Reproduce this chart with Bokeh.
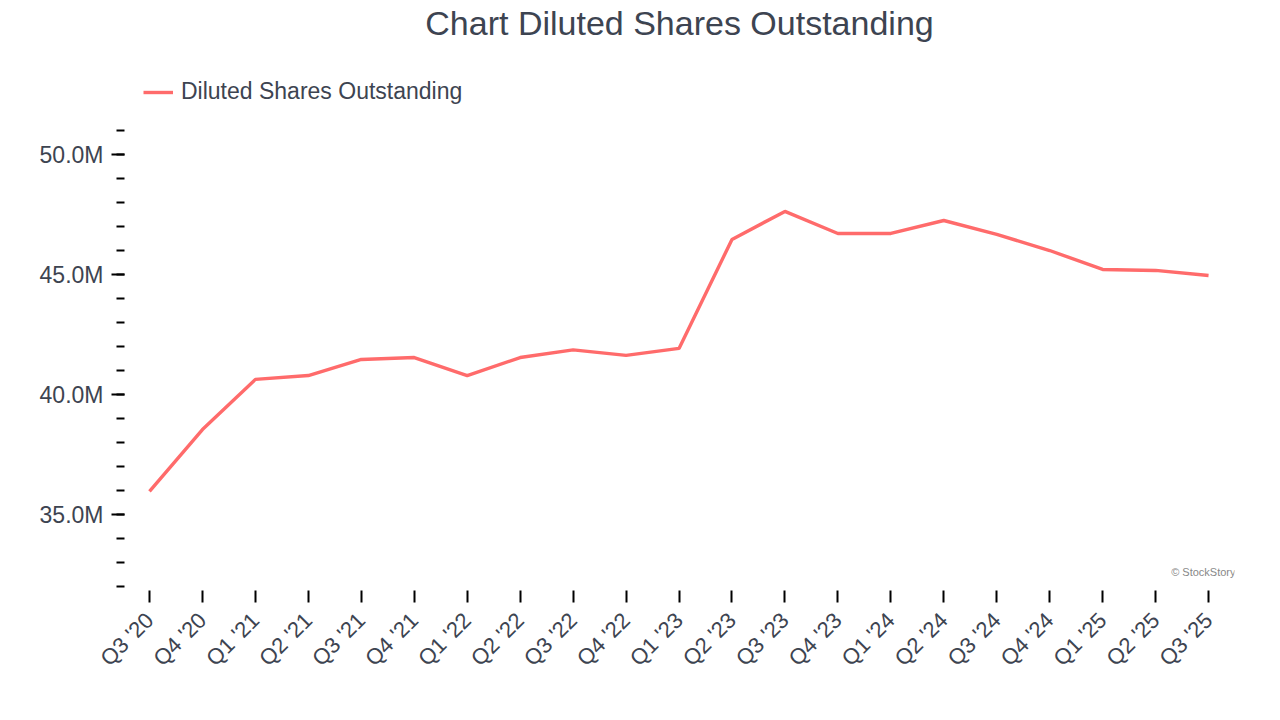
from bokeh.plotting import figure
from bokeh.models import (ColumnDataSource, FixedTicker, PrintfTickFormatter,
                          Legend, LegendItem, Label, Range1d)
from bokeh.embed import file_html
from bokeh.resources import INLINE
import math

quarters = ["Q3 '20", "Q4 '20", "Q1 '21", "Q2 '21", "Q3 '21", "Q4 '21", "Q1 '22", "Q2 '22",
            "Q3 '22", "Q4 '22", "Q1 '23", "Q2 '23", "Q3 '23", "Q4 '23", "Q1 '24", "Q2 '24",
            "Q3 '24", "Q4 '24", "Q1 '25", "Q2 '25", "Q3 '25"]
shares_millions = [35.96, 38.54, 40.63, 40.79, 41.46, 41.54, 40.79, 41.54, 41.86, 41.63, 41.92,
                   46.46, 47.63, 46.71, 46.71, 47.25, 46.67, 46.00, 45.21, 45.17, 44.96]
series_name = "Diluted Shares Outstanding"
title_text = "Chart Diluted Shares Outstanding"
y_major_ticks = [35, 40, 45, 50]
y_minor_ticks = list(range(32, 52))

FONT = "Liberation Sans"
TEXT = "#3d4451"

idx = list(range(len(quarters)))
src = ColumnDataSource(dict(x=idx, y=shares_millions))

p = figure(width=1280, height=720, output_backend="svg", toolbar_location=None,
           x_range=Range1d(-0.472, 20.49), y_range=Range1d(31.917, 56.417),
           min_border_left=124, min_border_right=46, min_border_top=0, min_border_bottom=132)
p.outline_line_color = None
p.grid.grid_line_color = None
p.background_fill_color = "white"
p.border_fill_color = "white"

r = p.line("x", "y", source=src, line_color="#ff6b6b", line_width=3.4)

# y axis
ya = p.yaxis[0]
ya.ticker = FixedTicker(ticks=y_major_ticks, minor_ticks=y_minor_ticks)
ya.formatter = PrintfTickFormatter(format="%.1fM")
ya.axis_line_color = None
ya.major_tick_line_color = "black"
ya.minor_tick_line_color = "black"
ya.major_tick_line_width = 2
ya.minor_tick_line_width = 2
ya.major_tick_out = 13
ya.major_tick_in = 0
ya.minor_tick_out = 8
ya.minor_tick_in = 0
ya.major_label_text_font = FONT
ya.major_label_text_font_size = "23px"
ya.major_label_text_color = TEXT
ya.major_label_standoff = 8

# x axis
xa = p.xaxis[0]
xa.ticker = FixedTicker(ticks=idx)
xa.major_label_overrides = {i: q for i, q in enumerate(quarters)}
xa.major_label_orientation = math.pi / 4
xa.axis_line_color = None
xa.major_tick_line_color = "black"
xa.major_tick_line_width = 2
xa.major_tick_out = 14
xa.major_tick_in = -2
xa.minor_tick_line_color = None
xa.major_label_text_font = FONT
xa.major_label_text_font_size = "22px"
xa.major_label_text_color = TEXT
xa.major_label_standoff = 14

legend = Legend(items=[LegendItem(label=series_name, renderers=[r])],
                location=(19, 483), border_line_color=None, background_fill_alpha=0,
                padding=0, margin=0, glyph_width=30, glyph_height=20, label_height=20,
                label_text_font=FONT, label_text_font_size="23px", label_text_color=TEXT,
                label_standoff=8)
p.add_layout(legend, "center")

p.add_layout(Label(x=555, y=566, x_units="screen", y_units="screen", text=title_text,
                   text_font=FONT, text_font_size="34px", text_color=TEXT,
                   text_align="center", text_baseline="middle"))

p.add_layout(Label(x=1111, y=17, x_units="screen", y_units="screen", text="© StockStory",
                   text_font=FONT, text_font_size="11px", text_color="#888888",
                   text_align="right", text_baseline="middle"))

open("out.html", "w").write(file_html(p, INLINE))
